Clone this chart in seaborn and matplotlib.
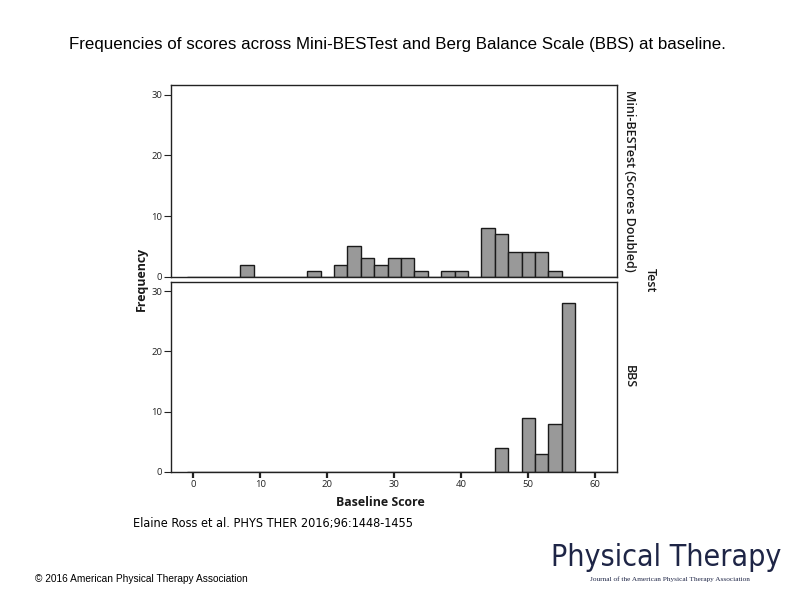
import numpy as np
import pandas as pd
import matplotlib
matplotlib.use("Agg")
import matplotlib.pyplot as plt
import seaborn as sns
from matplotlib import font_manager as fm

# ---- data (bin centres, 2-point bins) ----
mini_centers = [8, 18, 22, 24, 26, 28, 30, 32, 34, 38, 40, 44, 46, 48, 50, 52, 54]
mini_counts  = [2, 1, 2, 5, 3, 2, 3, 3, 1, 1, 1, 8, 7, 4, 4, 4, 1]
bbs_centers = [46, 50, 52, 54, 56]
bbs_counts  = [4, 9, 3, 8, 28]
x_ticks = [0, 10, 20, 30, 40, 50, 60]
y_ticks = [0, 10, 20, 30]

title = "Frequencies of scores across Mini-BESTest and Berg Balance Scale (BBS) at baseline."
panel_labels = ["Mini-BESTest (Scores Doubled)", "BBS"]

sns.set_theme(style="white")
plt.rcParams["font.family"] = ["Open Sans", "DejaVu Sans"]

# look for an installed condensed sans face (regular weight)
cond_path = None
for f in fm.fontManager.ttflist:
    nm = f.name + " " + str(f.fname)
    if (("Condensed" in nm or "Narrow" in nm or f.stretch in ("condensed", "semi-condensed"))
            and "Sans" in nm and f.weight in (400, "normal", "regular")
            and f.style == "normal"):
        cond_path = f.fname
        break

def cond_fp(size):
    if cond_path:
        return fm.FontProperties(fname=cond_path, size=size)
    return None

fig = plt.figure(figsize=(7.94, 5.95), dpi=100)
fig.patch.set_facecolor("white")

L, W = 0.215, 0.5625
ax1 = fig.add_axes([L, 0.535, W, 0.322])
ax2 = fig.add_axes([L, 0.2072, W, 0.3193])

for ax, cen, cnt in [(ax1, mini_centers, mini_counts), (ax2, bbs_centers, bbs_counts)]:
    df = pd.DataFrame({"score": np.array(cen, dtype=float), "n": np.array(cnt, dtype=float)})
    sns.histplot(data=df, x="score", weights="n", binwidth=2, binrange=(-1, 65), ax=ax,
                 color="#999999", edgecolor="#1a1a1a", linewidth=1.0, alpha=1.0)
    ax.set_xlim(-3.4, 63.3)
    ax.set_ylim(0, 31.6)
    ax.set_yticks(y_ticks)
    ax.set_yticklabels([str(v) for v in y_ticks], fontsize=6.8, color="#222222")
    ax.tick_params(axis="y", which="major", direction="out", length=5, width=0.8,
                   color="#222222", pad=1, left=True)
    ax.set_xlabel("")
    ax.set_ylabel("")
    for s in ax.spines.values():
        s.set_color("#222222")
        s.set_linewidth(1.0)
        s.set_visible(True)
    ax.grid(False)

ax1.set_xticks([])
ax2.set_xticks(x_ticks)
ax2.set_xticklabels([str(v) for v in x_ticks], fontsize=6.8, color="#222222")
ax2.tick_params(axis="x", direction="out", length=4, width=1.6, color="#222222",
                pad=2, bottom=True)

ax1.text(1.012, 0.5, panel_labels[0], transform=ax1.transAxes, rotation=-90,
         ha="left", va="center", fontsize=9.0, fontweight="semibold", color="#1a1a1a")
ax2.text(1.012, 0.5, panel_labels[1], transform=ax2.transAxes, rotation=-90,
         ha="left", va="center", fontsize=9.0, fontweight="semibold", color="#1a1a1a")

fig.text(650 / 794, 1 - 280 / 595, "Test", rotation=-90, ha="center", va="center",
         fontsize=8.9, fontweight="semibold", color="#1a1a1a")
fig.text(141 / 794, 1 - 279 / 595, "Frequency", rotation=90, ha="center", va="center",
         fontsize=8.9, fontweight="bold", color="#1a1a1a")
fig.text(380 / 794, 1 - 502 / 595, "Baseline Score", ha="center", va="center",
         fontsize=8.9, fontweight="bold", color="#1a1a1a")

fig.text(397 / 794, 1 - 44 / 595, title, ha="center", va="center", fontsize=12.2,
         family="Liberation Sans", color="black")

cap = "Elaine Ross et al. PHYS THER 2016;96:1448-1455"
fp = cond_fp(9.1)
if fp is not None:
    fig.text(133 / 794, 1 - 524 / 595, cap, ha="left", va="center", fontproperties=fp,
             color="black")
else:
    fig.text(133 / 794, 1 - 524 / 595, cap, ha="left", va="center", fontsize=8.8,
             family="Liberation Sans", color="black")
fig.text(35 / 794, 1 - 579 / 595, "\u00a9 2016 American Physical Therapy Association",
         ha="left", va="center", fontsize=7.3, family="Liberation Sans", color="black")

navy = "#1e2546"
fp_logo = cond_fp(21.7)
if fp_logo is not None:
    fig.text(666 / 794, 1 - 557 / 595, "Physical Therapy", ha="center", va="center",
             fontproperties=fp_logo, color=navy)
else:
    fig.text(666 / 794, 1 - 557 / 595, "Physical Therapy", ha="center", va="center",
             fontsize=22, family="Liberation Serif", color=navy)
fig.text(670 / 794, 1 - 579 / 595, "Journal of the American Physical Therapy Association",
         ha="center", va="center", fontsize=5.2, family="Liberation Serif", color=navy)

fig.savefig("out.png", dpi=100, facecolor="white")
